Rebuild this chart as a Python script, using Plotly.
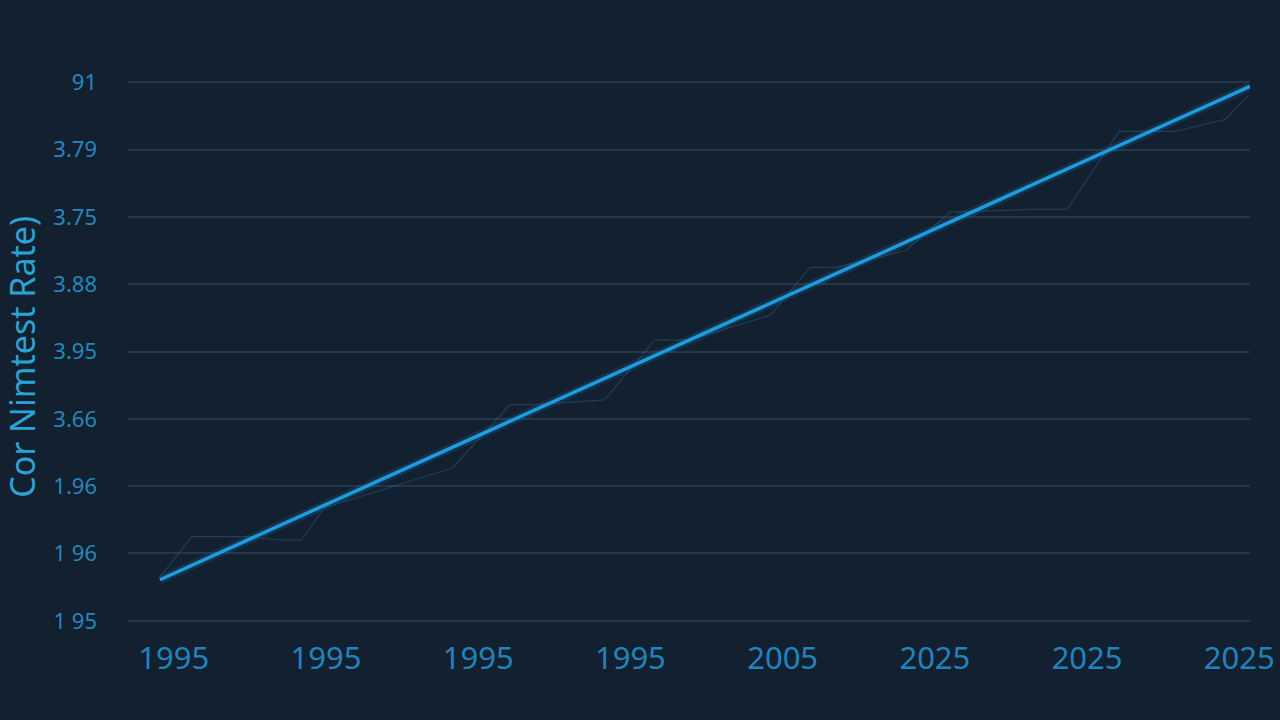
import plotly.graph_objects as go

# tick positions / labels as they appear on the chart
x_ticks = [0, 1, 2, 3, 4, 5, 6, 7]
x_labels = ['1995', '1995', '1995', '1995', '2005', '2025', '2025', '2025']
y_ticks = [0, 1, 2, 3, 4, 5, 6, 7, 8]
y_labels = ['1 95', '1 96', '1.96', '3.66', '3.95', '3.88', '3.75', '3.79', '91']

# main trend line
trend_x = [-0.09, 7.07]
trend_y = [0.61, 7.94]

# faint stepped line behind it
step_x = [-0.09, 0.12, 0.47, 0.70, 0.84, 0.99, 1.83, 2.21, 2.37, 2.83, 3.16, 3.39,
          3.92, 4.18, 4.35, 4.81, 5.10, 5.61, 5.87, 6.21, 6.58, 6.91, 7.06]
step_y = [0.65, 1.25, 1.25, 1.20, 1.20, 1.68, 2.27, 3.21, 3.21, 3.28, 4.17, 4.17,
          4.54, 5.25, 5.25, 5.50, 6.07, 6.11, 6.11, 7.27, 7.27, 7.45, 7.80]

bg = '#132030'
blue = '#1b9de0'
label_blue = '#2188bd'

fig = go.Figure()
fig.add_trace(go.Scatter(x=step_x, y=step_y, mode='lines',
                         line=dict(color='rgba(70,150,200,0.25)', width=1.2),
                         hoverinfo='skip', showlegend=False))
fig.add_trace(go.Scatter(x=trend_x, y=trend_y, mode='lines',
                         line=dict(color='rgba(27,157,224,0.15)', width=9),
                         hoverinfo='skip', showlegend=False))
fig.add_trace(go.Scatter(x=trend_x, y=trend_y, mode='lines',
                         line=dict(color=blue, width=3.5),
                         showlegend=False))

fig.update_layout(
    width=1280, height=720,
    paper_bgcolor=bg, plot_bgcolor=bg,
    margin=dict(l=128, r=30, t=62, b=79),
    font=dict(family='Noto Sans, DejaVu Sans, sans-serif', color=label_blue),
    showlegend=False,
)
fig.update_xaxes(
    range=[-0.3, 7.07], tickvals=x_ticks, ticktext=x_labels,
    showgrid=False, zeroline=False, showline=False, automargin=False,
    tickfont=dict(size=31, color='#1f84bb'), ticklabelstandoff=-4,
)
fig.update_yaxes(
    range=[-0.3, 8.3], tickvals=y_ticks, ticktext=y_labels,
    showgrid=True, gridcolor='#25364a', gridwidth=1.5, zeroline=False, showline=False,
    automargin=False,
    tickfont=dict(size=22, color=label_blue), ticklabelstandoff=30,
)
fig.add_annotation(
    text='Cor Nimtest Rate)', textangle=-90,
    xref='paper', yref='paper', x=-0.094, y=0.49,
    xanchor='center', yanchor='middle', showarrow=False,
    font=dict(size=34, color='#2aa3d8'),
)

fig.write_html('out.html', config={'displayModeBar': False},
               post_script="document.body.style.margin='0';")
